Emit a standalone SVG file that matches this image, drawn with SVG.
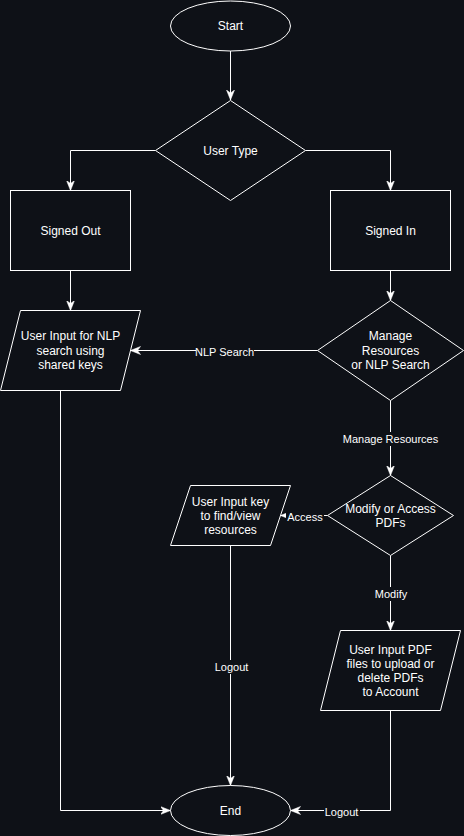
<svg xmlns="http://www.w3.org/2000/svg" width="464" height="836" viewBox="0 0 464 836">
<style>
.bg{fill:#0e1117}
.n{fill:#0e1117;stroke:#ffffff;stroke-width:1}
.e{fill:none;stroke:#ffffff;stroke-width:1}
.t{fill:#ffffff;font-family:"Liberation Sans",Arial,sans-serif;font-size:12px;text-anchor:middle}
.l{fill:#ffffff;font-family:"Liberation Sans",Arial,sans-serif;font-size:11px;text-anchor:middle}
.lb{fill:#0e1117}
</style>
<defs>
<marker id="a" markerUnits="userSpaceOnUse" markerWidth="10" markerHeight="10" viewBox="0 0 10 10" refX="10" refY="5" orient="auto">
<path d="M0,1 L10,5 L0,9 L3,5 Z" fill="#ffffff" stroke="#ffffff" stroke-width="0.5"/>
</marker>
</defs>
<rect class="bg" x="0" y="0" width="464" height="836"/>
<g id="connectors">
<path class="e" d="M230.5,51 L230.5,100" marker-end="url(#a)"/>
<path class="e" d="M155.5,150.5 L70.5,150.5 L70.5,190.5" marker-end="url(#a)"/>
<path class="e" d="M305.5,150.5 L390.5,150.5 L390.5,190.5" marker-end="url(#a)"/>
<path class="e" d="M70.5,270.5 L70.5,310.5" marker-end="url(#a)"/>
<path class="e" d="M390.5,270.5 L390.5,300.5" marker-end="url(#a)"/>
<path class="e" d="M317.5,350.5 L130.5,350.5" marker-end="url(#a)"/>
<rect class="lb" x="196" y="344" width="58" height="14"/>
<text class="l" x="224.5" y="355.5">NLP Search</text>
<path class="e" d="M390.5,400.5 L390.5,475.5" marker-end="url(#a)"/>
<rect class="lb" x="342" y="432" width="97" height="14"/>
<text class="l" x="390.5" y="443">Manage Resources</text>
<path class="e" d="M327.5,515.5 L280.5,515.5" marker-end="url(#a)"/>
<rect class="lb" x="286" y="509" width="38" height="14"/>
<text class="l" x="305" y="520.5">Access</text>
<path class="e" d="M390.5,555.5 L390.5,630.5" marker-end="url(#a)"/>
<rect class="lb" x="373" y="587" width="36" height="14"/>
<text class="l" x="391" y="598">Modify</text>
<path class="e" d="M230.5,545.5 L230.5,785.5" marker-end="url(#a)"/>
<rect class="lb" x="213" y="660" width="36" height="14"/>
<text class="l" x="231.5" y="671">Logout</text>
<path class="e" d="M60.5,390.5 L60.5,810.5 L170.5,810.5" marker-end="url(#a)"/>
<path class="e" d="M390.5,710.5 L390.5,810.5 L290.5,810.5" marker-end="url(#a)"/>
<rect class="lb" x="324" y="805" width="36" height="14"/>
<text class="l" x="341.5" y="816">Logout</text>
</g>
<g id="start">
<ellipse class="n" cx="230.5" cy="26" rx="60" ry="25"/>
<text class="t" x="230.5" y="30">Start</text>
</g>
<g id="user-type">
<polygon class="n" points="230.5,100.5 305.5,150.5 230.5,200.5 155.5,150.5"/>
<text class="t" x="230.5" y="155">User Type</text>
</g>
<g id="signed-out">
<rect class="n" x="10.5" y="190.5" width="120" height="80"/>
<text class="t" x="70.5" y="235">Signed Out</text>
</g>
<g id="signed-in">
<rect class="n" x="330.5" y="190.5" width="120" height="80"/>
<text class="t" x="390.5" y="235">Signed In</text>
</g>
<g id="nlp-input">
<polygon class="n" points="20.5,310.5 140.5,310.5 120.5,390.5 0.5,390.5"/>
<text class="t" x="70.5" y="340">User Input for NLP</text>
<text class="t" x="70.5" y="355">search using</text>
<text class="t" x="70.5" y="369">shared keys</text>
</g>
<g id="manage-or-nlp">
<polygon class="n" points="390.5,300.5 463.5,350.5 390.5,400.5 317.5,350.5"/>
<text class="t" x="390.5" y="340">Manage</text>
<text class="t" x="390.5" y="355">Resources</text>
<text class="t" x="390.5" y="369">or NLP Search</text>
</g>
<g id="modify-or-access">
<polygon class="n" points="390.5,475.5 453.5,515.5 390.5,555.5 327.5,515.5"/>
<text class="t" x="390.5" y="512.5">Modify or Access</text>
<text class="t" x="390.5" y="526.5">PDFs</text>
</g>
<g id="access-input">
<polygon class="n" points="190.5,485.5 290.5,485.5 270.5,545.5 170.5,545.5"/>
<text class="t" x="230.5" y="506">User Input key</text>
<text class="t" x="230.5" y="520">to find/view</text>
<text class="t" x="230.5" y="534">resources</text>
</g>
<g id="pdf-input">
<polygon class="n" points="340.5,630.5 460.5,630.5 440.5,710.5 320.5,710.5"/>
<text class="t" x="390.5" y="653.5">User Input PDF</text>
<text class="t" x="390.5" y="667.5">files to upload or</text>
<text class="t" x="390.5" y="681.5">delete PDFs</text>
<text class="t" x="390.5" y="695.5">to Account</text>
</g>
<g id="end">
<ellipse class="n" cx="230.5" cy="810.5" rx="60" ry="25"/>
<text class="t" x="230.5" y="815">End</text>
</g>
</svg>
